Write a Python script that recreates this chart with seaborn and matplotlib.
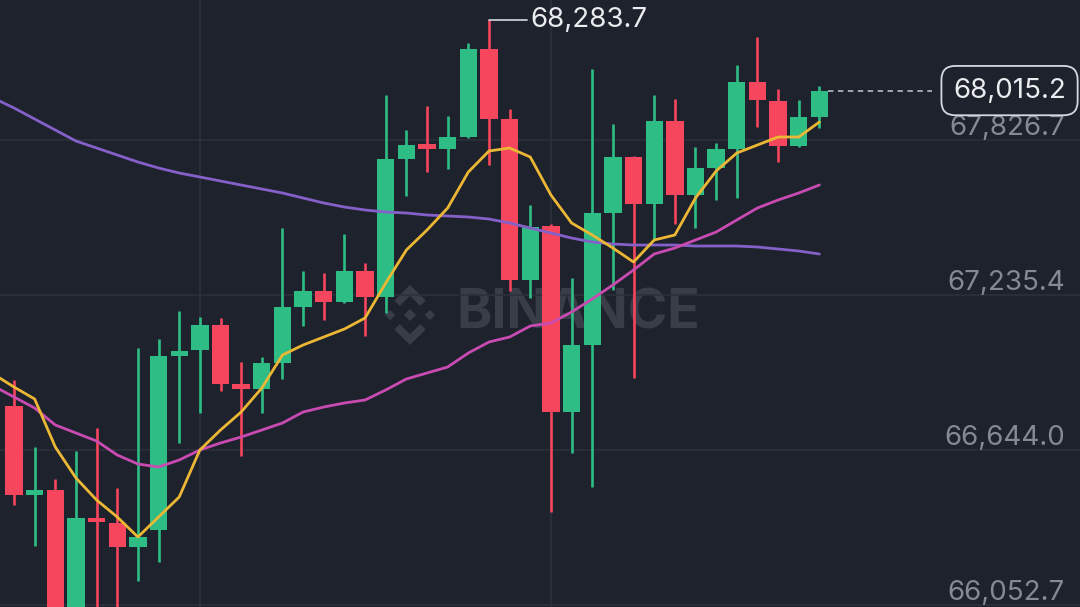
import matplotlib
matplotlib.use("Agg")
import matplotlib.pyplot as plt
import matplotlib.patches as mpatches
import numpy as np
import pandas as pd
import seaborn as sns

# ---------------- data ----------------
idx = list(range(40))
opens = [66812.0, 66472.4, 66491.5, 66026.1, 66384.7, 66365.6, 66274.1, 66338.9, 67002.7, 67025.6,
         67121.0, 66895.9, 66876.8, 66976.0, 67189.6, 67250.7, 67208.7, 67327.0, 67227.8, 67754.2,
         67811.4, 67792.4, 67838.1, 68173.8, 67906.8, 67292.6, 67498.6, 66789.1, 67044.7, 67548.2,
         67761.8, 67582.6, 67899.2, 67616.9, 67719.9, 67792.4, 68048.0, 67975.5, 67803.8, 67914.4]
highs = [66911.1, 66655.6, 66533.5, 66640.3, 66728.0, 66499.2, 67033.2, 67067.6, 67174.4, 67151.5,
         67147.7, 66979.8, 66998.9, 67491.0, 67327.0, 67319.3, 67468.1, 67357.5, 67998.4, 67864.8,
         67956.4, 67918.3, 68196.7, 68283.7, 67945.0, 67578.7, 67506.3, 67300.3, 68097.6, 67887.7,
         67765.0, 67998.4, 67983.1, 67800.0, 67815.3, 68112.8, 68219.6, 68021.3, 67979.3, 68032.7]
lows = [66434.3, 66277.9, 65957.4, 65919.3, 66014.7, 66026.1, 66144.4, 66216.9, 66670.8, 66785.3,
        66869.2, 66621.2, 66785.3, 66915.0, 67117.1, 67140.0, 67205.0, 67079.0, 67166.7, 67613.1,
        67704.6, 67716.1, 67834.3, 67731.3, 67250.7, 67224.0, 66407.6, 66632.7, 66503.0, 67254.5,
        66918.8, 67445.2, 67506.3, 67491.0, 67597.8, 67605.4, 67876.3, 67742.8, 67800.0, 67872.5]
closes = [66472.4, 66491.5, 66014.7, 66384.7, 66369.4, 66274.1, 66312.2, 67002.7, 67021.8, 67121.0,
          66895.9, 66876.8, 66976.0, 67189.6, 67250.7, 67208.7, 67327.0, 67227.8, 67754.2, 67807.6,
          67792.4, 67838.1, 68173.8, 67906.8, 67292.6, 67494.8, 66789.1, 67044.7, 67548.2, 67761.8,
          67582.6, 67899.2, 67616.9, 67719.9, 67792.4, 68048.0, 67979.3, 67803.8, 67914.4, 68015.2]

ma_idx = list(range(-1, 40))
ma7 = [66934.0, 66884.4, 66838.7, 66655.6, 66537.3, 66453.4, 66388.5, 66312.2, 66388.5, 66464.8,
       66644.1, 66720.4, 66789.1, 66880.6, 67006.5, 67044.7, 67075.2, 67105.7, 67147.7, 67281.2,
       67407.1, 67483.4, 67567.3, 67704.6, 67784.7, 67796.2, 67761.8, 67616.9, 67510.1, 67464.3,
       67414.7, 67361.3, 67445.2, 67464.3, 67605.4, 67708.4, 67777.1, 67807.6, 67838.1, 67838.1,
       67895.4]
ma25 = [66888.3, 66846.3, 66804.3, 66739.5, 66709.0, 66678.4, 66625.0, 66590.7, 66579.3, 66606.0,
        66644.1, 66670.8, 66693.7, 66720.4, 66747.1, 66789.1, 66808.1, 66823.4, 66834.9, 66873.0,
        66915.0, 66937.9, 66960.7, 67014.1, 67056.1, 67075.2, 67117.1, 67128.6, 67170.6, 67220.1,
        67273.6, 67330.8, 67391.8, 67414.7, 67445.2, 67475.7, 67521.5, 67567.3, 67597.8, 67624.5,
        67655.0]
ma99 = [67986.9, 67948.8, 67906.8, 67864.8, 67822.9, 67796.2, 67769.5, 67742.8, 67719.9, 67700.8,
        67685.6, 67670.3, 67655.0, 67639.8, 67624.5, 67605.4, 67586.4, 67571.1, 67559.7, 67552.0,
        67548.2, 67540.6, 67536.8, 67533.0, 67525.3, 67510.1, 67491.0, 67471.9, 67452.8, 67437.6,
        67430.0, 67426.1, 67426.1, 67426.1, 67422.3, 67422.3, 67422.3, 67418.5, 67410.9, 67403.3,
        67391.8]

price_ticks = [66052.7, 66644.0, 67235.4, 67826.7]
high_label = 68283.7
high_index = 23
watermark = "BINANCE"

# ---------------- style ----------------
BG = "#1e222d"
GRID = "#2b303b"
UP = "#2ebd85"
DOWN = "#f6465d"
C_MA7 = "#ebb734"
C_MA25 = "#c94bb2"
C_MA99 = "#8460c8"
TXT = "#848a94"
WHITE = "#eaecef"
WM = "#383d48"
FS = 20

sns.set_theme(style="dark", rc={"axes.facecolor": BG, "figure.facecolor": BG})
plt.rcParams["font.family"] = ["Inter", "DejaVu Sans"]

W, H = 1080, 607
fig = plt.figure(figsize=(W / 100, H / 100), dpi=100)
ax = fig.add_axes([0, 0, 1, 1])
ax.set_facecolor(BG)

# ---- watermark logo (in its own pixel-space axes) ----
lax = fig.add_axes([379 / W, 1 - 346 / H, 62 / W, 62 / H], zorder=0)
lax.set_xlim(-1.03, 1.03)
lax.set_ylim(-1.03, 1.03)
lax.axis("off")
lax.patch.set_alpha(0)
top = [(0, 1.0), (0.52, 0.48), (0.34, 0.30), (0, 0.64), (-0.34, 0.30), (-0.52, 0.48)]
bot = [(x, -y) for x, y in top]
for poly in (top, bot):
    lax.add_patch(mpatches.Polygon(poly, closed=True, color=WM, lw=0))
for cx, r in ((0, 0.2), (0.66, 0.17), (-0.66, 0.17)):
    lax.add_patch(mpatches.Polygon([(cx, r), (cx + r, 0), (cx, -r), (cx - r, 0)], closed=True, color=WM, lw=0))
fig.text(578 / W, 1 - 314 / H, watermark, color=WM, fontsize=38.5, fontweight="bold",
         ha="center", va="center", zorder=0.5)
ax.patch.set_alpha(0)
ax.set_zorder(1)

# ---- candles ----
o = np.array(opens); c = np.array(closes); h = np.array(highs); l = np.array(lows)
colors = [UP if cc >= oo else DOWN for oo, cc in zip(o, c)]
ax.vlines(idx, l, h, colors=colors, lw=1.9, zorder=2)
bottoms = np.minimum(o, c)
heights = np.maximum(np.abs(c - o), 12)
ax.bar(idx, heights, bottom=bottoms, width=0.84, color=colors, lw=0, zorder=3)

# ---- moving averages ----
ma_df = pd.DataFrame({"i": ma_idx, "ma7": ma7, "ma25": ma25, "ma99": ma99})
sns.lineplot(data=ma_df, x="i", y="ma99", color=C_MA99, lw=2.0, ax=ax, zorder=4)
sns.lineplot(data=ma_df, x="i", y="ma25", color=C_MA25, lw=2.0, ax=ax, zorder=4)
sns.lineplot(data=ma_df, x="i", y="ma7", color=C_MA7, lw=2.0, ax=ax, zorder=5)

# ---- axes ----
ax.set_xlim(-0.678, 51.62)
ax.set_ylim(66045.2, 68360.8)
ax.set_yticks(price_ticks)
ax.set_yticklabels([])
ax.set_xticks([9, 26])
ax.set_xticklabels([])
ax.set_xlabel("")
ax.set_ylabel("")
ax.tick_params(length=0)
ax.grid(True, color=GRID, lw=1.2)
for s in ax.spines.values():
    s.set_visible(False)

for v in price_ticks:
    ax.annotate(f"{v:,.1f}", xy=(0.986, v), xycoords=("axes fraction", "data"),
                xytext=(0, 3.5), textcoords="offset points", ha="right", va="baseline",
                color=TXT, fontsize=FS, zorder=6)

# ---- highest price marker ----
ax.plot([high_index, high_index + 1.84], [high_label, high_label], color="#c8ccd2", lw=1.3, zorder=6)
ax.text(high_index + 1.99, high_label, f"{high_label:,.1f}", color=WHITE, fontsize=FS,
        ha="left", va="center", zorder=6)

# ---- last price marker ----
last = closes[-1]
ax.plot([idx[-1] + 0.43, 44.45], [last, last], color="#aab0b8", lw=1.3, ls=(0, (3, 2.5)), zorder=6)
ax.text(0.987, last, f"{last:,.1f}", transform=ax.get_yaxis_transform(), color=WHITE,
        fontsize=FS, ha="right", va="center", zorder=7,
        bbox=dict(boxstyle="round,pad=0.42,rounding_size=0.5", fc=BG, ec="#d6d9de", lw=1.3))

fig.savefig("out.png", dpi=100, facecolor=BG)
